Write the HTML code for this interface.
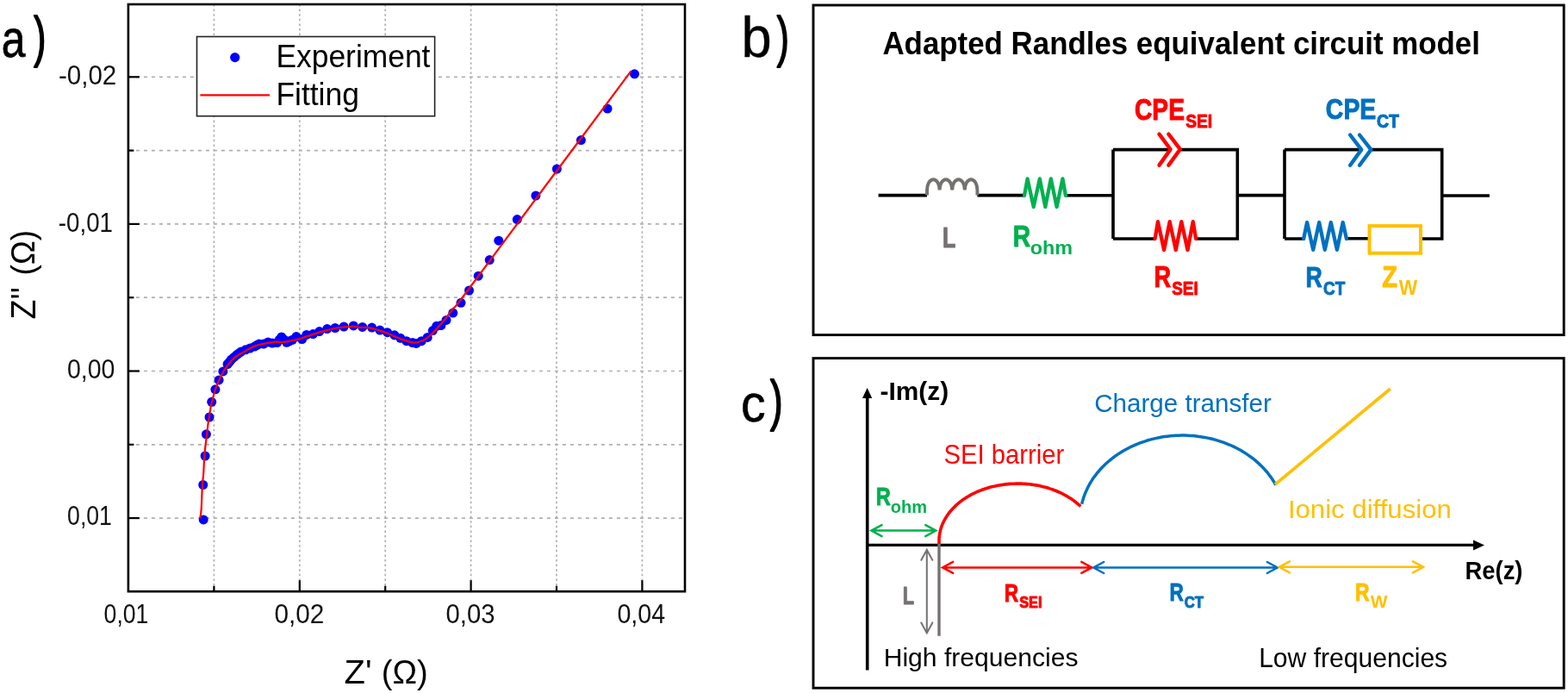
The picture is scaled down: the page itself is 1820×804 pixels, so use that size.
<!DOCTYPE html>
<html><head><meta charset="utf-8"><title>Impedance figure</title>
<style>
html,body{margin:0;padding:0;background:#fff;}
body{width:1820px;height:804px;overflow:hidden;}
svg{display:block;filter:blur(0.45px);}
text{font-family:"Liberation Sans",Arial,sans-serif;}
.gv{stroke:#b0b0b0;stroke-width:1.7;stroke-dasharray:2.5 3.1;}
.gh{stroke:#b0b0b0;stroke-width:1.7;stroke-dasharray:4 5;}
.tl text{font-size:30px;fill:#111;}
</style></head>
<body>
<svg width="1820" height="804" viewBox="0 0 1820 804">
<rect width="1820" height="804" fill="#fff"/>
<line x1="248.4" y1="5" x2="248.4" y2="686.2" class="gv"/>
<line x1="347.8" y1="5" x2="347.8" y2="686.2" class="gv"/>
<line x1="447.2" y1="5" x2="447.2" y2="686.2" class="gv"/>
<line x1="546.6" y1="5" x2="546.6" y2="686.2" class="gv"/>
<line x1="646.0" y1="5" x2="646.0" y2="686.2" class="gv"/>
<line x1="745.4" y1="5" x2="745.4" y2="686.2" class="gv"/>
<line x1="148.9" y1="89.3" x2="795" y2="89.3" class="gh"/>
<line x1="148.9" y1="174.6" x2="795" y2="174.6" class="gh"/>
<line x1="148.9" y1="259.9" x2="795" y2="259.9" class="gh"/>
<line x1="148.9" y1="345.2" x2="795" y2="345.2" class="gh"/>
<line x1="148.9" y1="430.5" x2="795" y2="430.5" class="gh"/>
<line x1="148.9" y1="515.8" x2="795" y2="515.8" class="gh"/>
<line x1="148.9" y1="601.1" x2="795" y2="601.1" class="gh"/>
<g stroke="#000" stroke-width="2.2"><line x1="148.9" y1="89.3" x2="161.9" y2="89.3"/><line x1="148.9" y1="174.6" x2="155.4" y2="174.6"/><line x1="148.9" y1="259.9" x2="161.9" y2="259.9"/><line x1="148.9" y1="345.2" x2="155.4" y2="345.2"/><line x1="148.9" y1="430.5" x2="161.9" y2="430.5"/><line x1="148.9" y1="515.8" x2="155.4" y2="515.8"/><line x1="148.9" y1="601.1" x2="161.9" y2="601.1"/><line x1="248.4" y1="686.2" x2="248.4" y2="679.7"/><line x1="347.8" y1="686.2" x2="347.8" y2="673.2"/><line x1="447.2" y1="686.2" x2="447.2" y2="679.7"/><line x1="546.6" y1="686.2" x2="546.6" y2="673.2"/><line x1="646.0" y1="686.2" x2="646.0" y2="679.7"/><line x1="745.4" y1="686.2" x2="745.4" y2="673.2"/></g>
<rect x="148.9" y="5" width="646.1" height="681.2" fill="none" stroke="#000" stroke-width="2.6"/>
<g fill="#0000ff"><circle cx="236.2" cy="602.9" r="5.5"/><circle cx="235.7" cy="562.5" r="5.5"/><circle cx="238.1" cy="529.0" r="5.5"/><circle cx="239.4" cy="503.8" r="5.5"/><circle cx="243.0" cy="484.0" r="5.5"/><circle cx="245.7" cy="466.3" r="5.5"/><circle cx="249.9" cy="451.8" r="5.5"/><circle cx="254.1" cy="440.9" r="5.5"/><circle cx="258.9" cy="430.9" r="5.5"/><circle cx="264.1" cy="422.5" r="5.5"/><circle cx="266.4" cy="419.8" r="5.5"/><circle cx="268.6" cy="417.0" r="5.5"/><circle cx="271.6" cy="414.4" r="5.5"/><circle cx="274.6" cy="411.8" r="5.5"/><circle cx="277.2" cy="409.9" r="5.5"/><circle cx="279.8" cy="408.0" r="5.5"/><circle cx="285.0" cy="405.8" r="5.5"/><circle cx="290.2" cy="404.0" r="5.5"/><circle cx="295.4" cy="402.1" r="5.5"/><circle cx="298.0" cy="400.6" r="5.5"/><circle cx="300.7" cy="399.1" r="5.5"/><circle cx="306.0" cy="399.0" r="5.5"/><circle cx="311.1" cy="396.9" r="5.5"/><circle cx="316.0" cy="398.0" r="5.5"/><circle cx="321.6" cy="397.6" r="5.5"/><circle cx="324.2" cy="394.2" r="5.5"/><circle cx="326.8" cy="390.9" r="5.5"/><circle cx="329.8" cy="394.1" r="5.5"/><circle cx="332.7" cy="397.3" r="5.5"/><circle cx="336.0" cy="395.8" r="5.5"/><circle cx="339.4" cy="394.3" r="5.5"/><circle cx="343.9" cy="390.6" r="5.5"/><circle cx="350.6" cy="393.6" r="5.5"/><circle cx="355.8" cy="388.4" r="5.5"/><circle cx="363.3" cy="387.6" r="5.5"/><circle cx="370.7" cy="384.6" r="5.5"/><circle cx="379.7" cy="381.6" r="5.5"/><circle cx="389.0" cy="380.5" r="5.5"/><circle cx="399.1" cy="379.0" r="5.5"/><circle cx="410.3" cy="377.9" r="5.5"/><circle cx="420.7" cy="379.4" r="5.5"/><circle cx="431.6" cy="380.1" r="5.5"/><circle cx="440.9" cy="383.1" r="5.5"/><circle cx="449.6" cy="385.7" r="5.5"/><circle cx="457.9" cy="388.8" r="5.5"/><circle cx="464.8" cy="392.3" r="5.5"/><circle cx="471.8" cy="395.7" r="5.5"/><circle cx="478.8" cy="397.5" r="5.5"/><circle cx="483.1" cy="398.4" r="5.5"/><circle cx="489.2" cy="395.7" r="5.5"/><circle cx="496.2" cy="391.4" r="5.5"/><circle cx="502.3" cy="383.6" r="5.5"/><circle cx="506.7" cy="378.3" r="5.5"/><circle cx="511.9" cy="377.5" r="5.5"/><circle cx="518.0" cy="371.4" r="5.5"/><circle cx="525.8" cy="363.1" r="5.5"/><circle cx="535.0" cy="351.3" r="5.5"/><circle cx="544.5" cy="337.0" r="5.5"/><circle cx="555.2" cy="320.2" r="5.5"/><circle cx="568.2" cy="301.6" r="5.5"/><circle cx="578.8" cy="279.2" r="5.5"/><circle cx="600.3" cy="254.6" r="5.5"/><circle cx="621.9" cy="227.0" r="5.5"/><circle cx="646.4" cy="196.0" r="5.5"/><circle cx="674.4" cy="162.6" r="5.5"/><circle cx="705.1" cy="126.1" r="5.5"/><circle cx="736.5" cy="85.8" r="5.5"/></g>
<path fill="none" stroke="#ff0000" stroke-width="2.2" d="M232.3,601.3 C232.5,599.4 233.3,596.5 233.7,590.0 C234.1,583.5 234.5,569.2 234.9,562.5 C235.3,555.8 235.8,555.2 236.2,549.5 C236.6,543.8 236.8,534.8 237.3,528.5 C237.8,522.2 238.6,516.0 239.1,512.0 C239.6,508.0 239.8,508.0 240.2,504.3 C240.6,500.6 240.9,495.7 241.8,489.7 C242.7,483.7 244.1,474.8 245.4,468.5 C246.8,462.2 247.9,457.7 249.9,452.0 C251.9,446.3 254.9,439.0 257.4,434.2 C259.9,429.4 262.4,426.2 264.9,423.0 C267.4,419.8 269.4,417.2 272.3,414.8 C275.2,412.4 278.6,410.8 282.4,408.6 C286.2,406.4 290.8,403.4 294.9,401.7 C299.0,400.0 303.1,399.4 307.3,398.6 C311.5,397.8 316.5,397.0 319.8,396.7 C323.1,396.4 324.7,397.1 327.2,397.0 C329.7,396.9 331.8,396.4 334.9,395.8 C338.0,395.2 342.4,394.6 346.1,393.6 C349.8,392.6 353.6,391.1 357.3,389.9 C361.0,388.6 364.8,387.2 368.5,386.1 C372.2,385.0 376.0,384.0 379.7,383.1 C383.4,382.2 387.8,381.1 390.9,380.5 C394.0,379.9 395.2,379.9 398.4,379.6 C401.6,379.3 407.2,378.7 410.3,378.7 C413.4,378.7 414.0,379.6 417.0,379.8 C420.0,380.0 424.5,379.6 428.2,380.1 C431.9,380.7 436.2,382.2 439.4,383.1 C442.6,384.0 443.2,384.0 447.4,385.7 C451.6,387.4 459.3,391.1 464.8,393.1 C470.3,395.1 476.1,397.2 480.5,397.5 C484.9,397.8 487.8,396.3 491.0,394.9 C494.2,393.4 496.1,392.1 499.7,388.8 C503.3,385.5 508.4,379.9 512.8,374.8 C517.1,369.7 521.2,364.1 525.8,358.3 C530.4,352.5 521.6,365.3 540.6,340.0 C559.6,314.7 608.0,249.4 640.0,206.5 C672.0,163.6 717.1,103.1 732.5,82.4"/>
<rect x="228.5" y="42.5" width="276.1" height="92.2" fill="#fff" stroke="#222" stroke-width="1.6"/>
<circle cx="272.7" cy="66.6" r="5.6" fill="#0000ff"/>
<line x1="232.4" y1="110.3" x2="313.1" y2="110.3" stroke="#ff0000" stroke-width="2.2"/>
<rect x="944" y="6" width="871.2" height="382.6" fill="none" stroke="#000" stroke-width="2.9"/>
<path stroke="#000" stroke-width="3.6" fill="none" stroke-linejoin="miter" stroke-linecap="butt" d="M1019.6,226.6 H1076 M1134.4,226.6 H1189 M1236.9,226.8 H1292 M1292,173.6 V277 M1292,173.6 H1358 M1369,173.6 H1436.3 V277 H1388.1 M1340.6,277 H1292 M1436.3,226.6 H1491 M1491,173.6 V277 M1491,173.6 H1580 M1591,173.6 H1673.7 V277 H1649 M1589.5,276.8 H1562.9 M1513.2,277 H1491 M1673.7,227 H1728.9"/>
<path d="M1076.0,226.6 V220.6 A7.30,12.4 0 0 1 1090.60,220.6 A7.30,12.4 0 0 1 1105.20,220.6 A7.30,12.4 0 0 1 1119.80,220.6 A7.30,12.4 0 0 1 1134.40,220.6 V226.6" stroke="#767171" stroke-width="3.9" fill="none"/>
<path d="M1189.0,226.8 L1192.6,207.4 L1199.7,240.1 L1206.8,207.4 L1213.3,240.1 L1219.8,207.4 L1226.6,240.1 L1233.4,207.4 L1236.9,226.8" stroke="#00b050" stroke-width="4.3" fill="none" stroke-linejoin="round" stroke-linecap="round"/>
<path d="M1340.6,277.0 L1344.0,257.2 L1351.1,290.0 L1357.7,257.2 L1364.8,290.0 L1371.3,257.2 L1378.5,290.0 L1384.7,257.2 L1388.1,277.0" stroke="#ff0000" stroke-width="4.3" fill="none" stroke-linejoin="round" stroke-linecap="round"/>
<path d="M1513.2,277.0 L1517.1,258.0 L1524.2,289.8 L1531.2,258.0 L1537.8,289.8 L1544.8,258.0 L1551.9,289.8 L1558.7,258.0 L1562.9,277.0" stroke="#0070c0" stroke-width="4.3" fill="none" stroke-linejoin="round" stroke-linecap="round"/>
<rect x="1589.5" y="262.1" width="59.5" height="31.6" fill="none" stroke="#ffc000" stroke-width="4"/>
<path d="M1345.5,155.6 L1358.6,173.2 L1345.5,191.6 M1356.4,155.6 L1369.8,173.2 L1356.4,191.6" stroke="#ff0000" stroke-width="4.4" fill="none" stroke-linecap="round" stroke-linejoin="round"/>
<path d="M1567.1,156.5 L1580.2,173.6 L1567.1,191.7 M1578,156.5 L1591.4,173.6 L1578,191.7" stroke="#0070c0" stroke-width="4.4" fill="none" stroke-linecap="round" stroke-linejoin="round"/>
<rect x="944" y="415.6" width="871.2" height="382.6" fill="none" stroke="#000" stroke-width="2.9"/>
<line x1="1006.7" y1="777.4" x2="1006.7" y2="459" stroke="#000" stroke-width="3.6"/>
<path d="M1006.6,450 L1012.2,462 L1001,462 Z" fill="#000"/>
<line x1="1005" y1="632.4" x2="1712" y2="632.4" stroke="#000" stroke-width="3.4"/>
<path d="M1723,632.4 L1710,626.4 L1710,638.4 Z" fill="#000"/>
<polyline fill="none" stroke="#ff0000" stroke-width="3.6" points="1090.0,631.5 1090.0,627.4 1090.0,625.6 1090.1,623.7 1090.3,621.9 1090.6,620.1 1090.9,618.2 1091.3,616.4 1091.7,614.6 1092.2,612.8 1092.8,611.0 1093.5,609.2 1094.2,607.5 1095.0,605.7 1095.9,604.0 1096.8,602.3 1097.8,600.6 1098.9,598.9 1100.0,597.3 1101.2,595.6 1102.4,594.0 1103.7,592.5 1105.1,590.9 1106.5,589.4 1108.0,587.9 1109.5,586.4 1111.1,585.0 1112.7,583.6 1114.4,582.2 1116.2,580.9 1118.0,579.6 1119.8,578.4 1121.7,577.1 1123.7,576.0 1125.7,574.8 1127.7,573.7 1129.8,572.7 1131.9,571.6 1134.0,570.7 1136.2,569.7 1138.4,568.9 1140.7,568.0 1143.0,567.2 1145.3,566.5 1147.6,565.8 1150.0,565.1 1152.4,564.5 1154.8,564.0 1157.2,563.4 1159.7,563.0 1162.2,562.6 1164.7,562.2 1167.1,561.9 1169.7,561.6 1172.2,561.4 1174.7,561.3 1177.2,561.2 1179.8,561.1 1182.3,561.1 1184.8,561.1 1187.4,561.2 1189.9,561.4 1192.4,561.6 1194.9,561.8 1197.4,562.1 1199.9,562.5 1202.4,562.9 1204.8,563.3 1207.3,563.8 1209.7,564.4 1212.1,565.0 1214.5,565.6 1216.8,566.3 1219.1,567.1 1221.4,567.8 1223.7,568.7 1225.9,569.5 1228.1,570.5 1230.2,571.4 1232.4,572.4 1234.4,573.5 1236.5,574.6 1238.5,575.7 1240.4,576.9 1242.3,578.1 1244.2,579.3 1246.0,580.6 1247.8,582.0 1249.5,583.3 1251.1,584.7 1252.8,586.1 1254.3,587.6"/>
<polyline fill="none" stroke="#0070c0" stroke-width="3.5" points="1255.6,584.8 1256.3,582.1 1257.1,579.4 1257.9,576.7 1258.9,574.1 1259.9,571.4 1261.1,568.9 1262.3,566.3 1263.6,563.8 1265.0,561.2 1266.4,558.8 1268.0,556.3 1269.6,553.9 1271.4,551.6 1273.2,549.2 1275.1,547.0 1277.0,544.7 1279.0,542.5 1281.1,540.4 1283.3,538.3 1285.6,536.3 1287.9,534.3 1290.3,532.4 1292.7,530.5 1295.2,528.7 1297.8,526.9 1300.4,525.2 1303.1,523.6 1305.8,522.0 1308.6,520.5 1311.4,519.0 1314.3,517.6 1317.3,516.3 1320.2,515.1 1323.2,513.9 1326.3,512.8 1329.4,511.8 1332.5,510.8 1335.7,509.9 1338.9,509.1 1342.1,508.4 1345.3,507.7 1348.6,507.1 1351.8,506.6 1355.1,506.2 1358.4,505.8 1361.8,505.5 1365.1,505.3 1368.4,505.2 1371.7,505.1 1375.1,505.1 1378.4,505.2 1381.7,505.4 1385.1,505.6 1388.4,506.0 1391.7,506.4 1395.0,506.9 1398.2,507.4 1401.5,508.1 1404.7,508.8 1407.9,509.5 1411.1,510.4 1414.2,511.3 1417.3,512.3 1420.4,513.4 1423.4,514.6 1426.4,515.8 1429.4,517.0 1432.3,518.4 1435.1,519.8 1437.9,521.3 1440.7,522.8 1443.4,524.5 1446.1,526.1 1448.6,527.9 1451.2,529.7 1453.7,531.5 1456.1,533.4 1458.4,535.4 1460.7,537.4 1462.9,539.5 1465.0,541.6 1467.1,543.7 1469.1,546.0 1471.0,548.2 1472.8,550.5 1474.6,552.9 1476.3,555.2 1477.9,557.7 1479.4,560.1 1480.8,562.6"/>
<line x1="1480.1" y1="562" x2="1613.8" y2="451" stroke="#ffc000" stroke-width="3.6"/>
<path d="M1011.5,615.6 H1086.3 M1023.5,609.1 L1011.5,615.6 L1023.5,622.1 M1074.3,609.1 L1086.3,615.6 L1074.3,622.1" stroke="#00b050" stroke-width="2.5" fill="none" stroke-linecap="round" stroke-linejoin="miter"/>
<path d="M1094.1,658.4 H1267.3 M1106.1,651.9 L1094.1,658.4 L1106.1,664.9 M1255.3,651.9 L1267.3,658.4 L1255.3,664.9" stroke="#ff0000" stroke-width="2.5" fill="none" stroke-linecap="round" stroke-linejoin="miter"/>
<path d="M1269.2,658.5 H1482.8 M1281.2,652.0 L1269.2,658.5 L1281.2,665.0 M1470.8,652.0 L1482.8,658.5 L1470.8,665.0" stroke="#0070c0" stroke-width="2.5" fill="none" stroke-linecap="round" stroke-linejoin="miter"/>
<path d="M1484.8,657.8 H1652 M1496.8,651.3 L1484.8,657.8 L1496.8,664.3 M1640,651.3 L1652,657.8 L1640,664.3" stroke="#ffc000" stroke-width="2.5" fill="none" stroke-linecap="round" stroke-linejoin="miter"/>
<line x1="1090" y1="631" x2="1090" y2="737.8" stroke="#767171" stroke-width="3.4"/>
<path d="M1075.8,637.8 V734.4 M1069.3,649.8 L1075.8,637.8 L1082.3,649.8 M1069.3,722.4 L1075.8,734.4 L1082.3,722.4" stroke="#767171" stroke-width="2.0" fill="none" stroke-linecap="round"/>
<text font-family="'Liberation Sans',Arial,sans-serif" font-size="30" fill="#111" transform="matrix(0.9847 0 0 1.0650 67.97 97.96)">-0,02</text>
<text font-family="'Liberation Sans',Arial,sans-serif" font-size="30" fill="#111" transform="matrix(0.9232 0 0 1.0556 67.85 268.57)">-0,01</text>
<text font-family="'Liberation Sans',Arial,sans-serif" font-size="30" fill="#111" transform="matrix(0.9500 0 0 1.0603 78.01 438.87)">0,00</text>
<text font-family="'Liberation Sans',Arial,sans-serif" font-size="30" fill="#111" transform="matrix(0.8879 0 0 1.0603 78.09 609.37)">0,01</text>
<text font-family="'Liberation Sans',Arial,sans-serif" font-size="30" fill="#111" transform="matrix(0.8879 0 0 1.0650 120.59 722.86)">0,01</text>
<text font-family="'Liberation Sans',Arial,sans-serif" font-size="30" fill="#111" transform="matrix(0.9910 0 0 1.0650 318.46 722.96)">0,02</text>
<text font-family="'Liberation Sans',Arial,sans-serif" font-size="30" fill="#111" transform="matrix(0.9758 0 0 1.0526 517.48 722.87)">0,03</text>
<text font-family="'Liberation Sans',Arial,sans-serif" font-size="30" fill="#111" transform="matrix(0.9529 0 0 1.0556 716.41 722.87)">0,04</text>
<text font-family="'Liberation Sans',Arial,sans-serif" font-size="66" fill="#000" stroke="#000" stroke-width="0.8" stroke-linejoin="round" transform="matrix(0.7536 0 0 0.9378 1.82 66.46)">a</text>
<text font-family="'Liberation Sans',Arial,sans-serif" font-size="66" fill="#000" stroke="#000" stroke-width="2.0" stroke-linejoin="round" transform="matrix(0.6380 0 0 0.9685 39.18 64.71)">)</text>
<text font-family="'Liberation Sans',Arial,sans-serif" font-size="66" fill="#000" stroke="#000" stroke-width="0.4" stroke-linejoin="round" transform="matrix(0.9587 0 0 1.0072 860.47 66.24)">b</text>
<text font-family="'Liberation Sans',Arial,sans-serif" font-size="66" fill="#000" stroke="#000" stroke-width="2.0" stroke-linejoin="round" transform="matrix(0.6380 0 0 0.9701 901.68 64.79)">)</text>
<text font-family="'Liberation Sans',Arial,sans-serif" font-size="66" fill="#000" stroke="#000" stroke-width="0.6" stroke-linejoin="round" transform="matrix(0.8690 0 0 0.9306 859.93 489.37)">c</text>
<text font-family="'Liberation Sans',Arial,sans-serif" font-size="66" fill="#000" stroke="#000" stroke-width="2.0" stroke-linejoin="round" transform="matrix(0.6582 0 0 0.9701 893.99 487.19)">)</text>
<text font-family="'Liberation Sans',Arial,sans-serif" font-size="36.92" fill="#000" transform="matrix(0.9591 0 0 1 320.42 78.30)">Experiment</text>
<text font-family="'Liberation Sans',Arial,sans-serif" font-size="36.48" fill="#000" transform="matrix(0.9723 0 0 1 320.38 122.40)">Fitting</text>
<text font-family="'Liberation Sans',Arial,sans-serif" font-size="39.39" fill="#000" transform="matrix(1.0124 0 0 1 399.53 793.10)">Z'</text>
<text font-family="'Liberation Serif',serif" font-size="39" fill="#000" transform="matrix(0.9806 0 0 0.9944 442.68 792.80)">(Ω)</text>
<text font-family="'Liberation Sans',Arial,sans-serif" font-size="40.26" fill="#000" transform="matrix(0 -0.9361 1 0 40.90 370.57)">Z''</text>
<text font-family="'Liberation Serif',serif" font-size="39" fill="#000" transform="matrix(0 -0.9573 1.0085 0 39.98 319.48)">(Ω)</text>
<text font-family="'Liberation Sans',Arial,sans-serif" font-weight="bold" font-size="36.63" fill="#000" transform="matrix(0.9520 0 0 1 1024.45 62.60)">Adapted Randles equivalent circuit model</text>
<text font-family="'Liberation Sans',Arial,sans-serif" font-weight="bold" font-size="33.58" fill="#767171" stroke="#767171" stroke-width="1.0" stroke-linejoin="round" transform="matrix(0.7452 0 0 1 1093.90 286.80)">L</text>
<text font-family="'Liberation Sans',Arial,sans-serif" font-weight="bold" font-size="34.59" fill="#00b050" stroke="#00b050" stroke-width="1.0" stroke-linejoin="round" transform="matrix(0.8130 0 0 1 1175.68 285.50)">R</text>
<text font-family="'Liberation Sans',Arial,sans-serif" font-weight="bold" font-size="22.8" fill="#00b050" transform="matrix(1.0251 0 0 1 1195.67 294.80)">ohm</text>
<text font-family="'Liberation Sans',Arial,sans-serif" font-weight="bold" font-size="34.74" fill="#ff0000" stroke="#ff0000" stroke-width="1.0" stroke-linejoin="round" transform="matrix(0.8129 0 0 1 1316.99 138.70)">CPE</text>
<text font-family="'Liberation Sans',Arial,sans-serif" font-weight="bold" font-size="22.09" fill="#ff0000" stroke="#ff0000" stroke-width="1.0" stroke-linejoin="round" transform="matrix(0.8672 0 0 1 1376.18 147.90)">SEI</text>
<text font-family="'Liberation Sans',Arial,sans-serif" font-weight="bold" font-size="34.3" fill="#ff0000" stroke="#ff0000" stroke-width="1.0" stroke-linejoin="round" transform="matrix(0.7912 0 0 1 1339.52 333.10)">R</text>
<text font-family="'Liberation Sans',Arial,sans-serif" font-weight="bold" font-size="22.09" fill="#ff0000" stroke="#ff0000" stroke-width="1.0" stroke-linejoin="round" transform="matrix(0.8526 0 0 1 1360.29 342.40)">SEI</text>
<text font-family="'Liberation Sans',Arial,sans-serif" font-weight="bold" font-size="33.87" fill="#0070c0" stroke="#0070c0" stroke-width="1.0" stroke-linejoin="round" transform="matrix(0.8399 0 0 1 1538.86 138.40)">CPE</text>
<text font-family="'Liberation Sans',Arial,sans-serif" font-weight="bold" font-size="21.8" fill="#0070c0" stroke="#0070c0" stroke-width="1.0" stroke-linejoin="round" transform="matrix(0.8939 0 0 1 1597.95 147.80)">CT</text>
<text font-family="'Liberation Sans',Arial,sans-serif" font-weight="bold" font-size="33.87" fill="#0070c0" stroke="#0070c0" stroke-width="1.0" stroke-linejoin="round" transform="matrix(0.7867 0 0 1 1515.52 333.00)">R</text>
<text font-family="'Liberation Sans',Arial,sans-serif" font-weight="bold" font-size="22.09" fill="#0070c0" stroke="#0070c0" stroke-width="1.0" stroke-linejoin="round" transform="matrix(0.8547 0 0 1 1536.07 342.20)">CT</text>
<text font-family="'Liberation Sans',Arial,sans-serif" font-weight="bold" font-size="34.3" fill="#ffc000" stroke="#ffc000" stroke-width="1.0" stroke-linejoin="round" transform="matrix(0.8450 0 0 1 1604.18 332.60)">Z</text>
<text font-family="'Liberation Sans',Arial,sans-serif" font-weight="bold" font-size="23.4" fill="#ffc000" transform="matrix(0.9682 0 0 1 1623.70 342.30)">W</text>
<text font-family="'Liberation Sans',Arial,sans-serif" font-weight="bold" font-size="29.65" fill="#000" transform="matrix(1.0085 0 0 1 1021.44 464.20)">-Im(z)</text>
<text font-family="'Liberation Sans',Arial,sans-serif" font-weight="bold" font-size="30.09" fill="#000" transform="matrix(0.9114 0 0 1 1700.48 671.60)">Re(z)</text>
<text font-family="'Liberation Sans',Arial,sans-serif" font-size="30.67" fill="#ff0000" transform="matrix(0.9529 0 0 1 1095.57 537.60)">SEI barrier</text>
<text font-family="'Liberation Sans',Arial,sans-serif" font-size="29.8" fill="#0070c0" transform="matrix(0.9937 0 0 1 1270.21 478.20)">Charge transfer</text>
<text font-family="'Liberation Sans',Arial,sans-serif" font-size="30.38" fill="#ffc000" transform="matrix(1.0260 0 0 1 1494.88 600.80)">Ionic diffusion</text>
<text font-family="'Liberation Sans',Arial,sans-serif" font-size="29.8" fill="#000" transform="matrix(1.0105 0 0 1 1025.67 773.00)">High frequencies</text>
<text font-family="'Liberation Sans',Arial,sans-serif" font-size="30.52" fill="#000" transform="matrix(0.9856 0 0 1 1461.14 773.60)">Low frequencies</text>
<text font-family="'Liberation Sans',Arial,sans-serif" font-weight="bold" font-size="28.78" fill="#00b050" stroke="#00b050" stroke-width="1.0" stroke-linejoin="round" transform="matrix(0.8208 0 0 1 1016.87 585.90)">R</text>
<text font-family="'Liberation Sans',Arial,sans-serif" font-weight="bold" font-size="19.5" fill="#00b050" transform="matrix(1.0293 0 0 1 1033.83 594.50)">ohm</text>
<text font-family="'Liberation Sans',Arial,sans-serif" font-weight="bold" font-size="29.65" fill="#767171" stroke="#767171" stroke-width="1.0" stroke-linejoin="round" transform="matrix(0.7323 0 0 1 1047.70 700.50)">L</text>
<text font-family="'Liberation Sans',Arial,sans-serif" font-weight="bold" font-size="29.94" fill="#ff0000" stroke="#ff0000" stroke-width="1.0" stroke-linejoin="round" transform="matrix(0.7600 0 0 1 1165.76 697.60)">R</text>
<text font-family="'Liberation Sans',Arial,sans-serif" font-weight="bold" font-size="18.75" fill="#ff0000" stroke="#ff0000" stroke-width="1.0" stroke-linejoin="round" transform="matrix(0.8644 0 0 1 1183.30 705.30)">SEI</text>
<text font-family="'Liberation Sans',Arial,sans-serif" font-weight="bold" font-size="28.78" fill="#0070c0" stroke="#0070c0" stroke-width="1.0" stroke-linejoin="round" transform="matrix(0.7844 0 0 1 1357.42 697.20)">R</text>
<text font-family="'Liberation Sans',Arial,sans-serif" font-weight="bold" font-size="18.02" fill="#0070c0" stroke="#0070c0" stroke-width="1.0" stroke-linejoin="round" transform="matrix(0.9292 0 0 1 1374.67 704.60)">CT</text>
<text font-family="'Liberation Sans',Arial,sans-serif" font-weight="bold" font-size="28.78" fill="#ffc000" stroke="#ffc000" stroke-width="1.0" stroke-linejoin="round" transform="matrix(0.7948 0 0 1 1573.11 697.20)">R</text>
<text font-family="'Liberation Sans',Arial,sans-serif" font-weight="bold" font-size="19.91" fill="#ffc000" transform="matrix(1.0507 0 0 1 1590.70 705.10)">W</text>
</svg>
</body></html>
